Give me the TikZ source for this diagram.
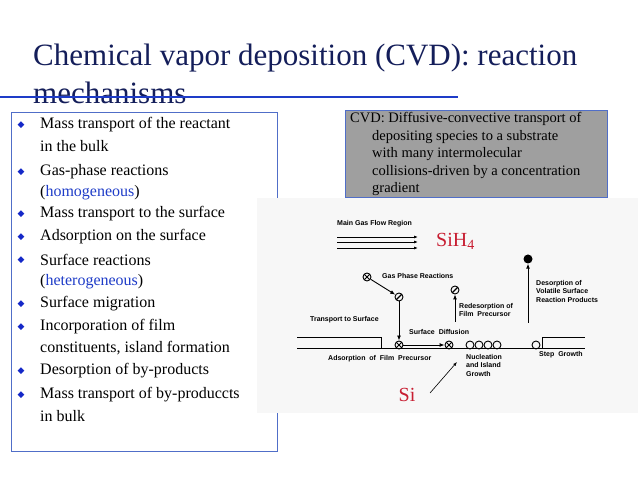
\documentclass[tikz,border=0pt]{standalone}
\usepackage{fontspec}
\setmainfont{Liberation Serif}
\newfontfamily\arialf{Liberation Sans}
\newfontfamily\bulfont{DejaVu Sans}
\usetikzlibrary{arrows.meta}
\definecolor{navy}{RGB}{20,30,90}
\definecolor{ttblue}{RGB}{30,60,200}
\definecolor{boxblue}{RGB}{80,110,200}
\definecolor{bulblue}{RGB}{20,40,200}
\definecolor{sired}{RGB}{200,30,50}
\begin{document}
\begin{tikzpicture}[x=1pt,y=-1pt,
  bl/.style={anchor=west,inner sep=0pt,font=\fontsize{16}{19}\selectfont},
  bul/.style={anchor=center,inner sep=0pt,font=\bulfont\fontsize{9}{9}\selectfont,text=bulblue},
  sm/.style={anchor=west,inner sep=0pt,font=\arialf\bfseries\fontsize{7}{8.5}\selectfont,align=left},
  gb/.style={anchor=west,inner sep=0pt,font=\fontsize{14.5}{17}\selectfont},
  arr/.style={-{Latex[length=5pt,width=4pt]},line width=0.9pt},
  circ/.style={circle,draw,line width=0.9pt,minimum size=8pt,inner sep=0pt},
  xc/.style={circ,path picture={\draw[line width=0.8pt] (path picture bounding box.south west)--(path picture bounding box.north east) (path picture bounding box.north west)--(path picture bounding box.south east);}},
  sc/.style={circ,path picture={\draw[line width=1.4pt] (path picture bounding box.south west)--(path picture bounding box.north east);}},
  ln/.style={line width=1pt}]
\useasboundingbox (0,0) rectangle (638,478);
\fill[white] (0,0) rectangle (638,478);
% title
\node[anchor=west,inner sep=0pt,text=navy,font=\fontsize{31}{35}\selectfont] (t1) at (33,58) {Chemical vapor deposition (CVD): reaction};
\node[anchor=west,inner sep=0pt,text=navy,font=\fontsize{31}{35}\selectfont] (t2) at (33,93) {mechanisms};
\draw[ttblue,line width=2pt] (0,97) -- (458,97);
% left box
\draw[boxblue,line width=0.8pt] (11,112) rectangle (277,451);
\foreach \y in {125,172,214,237,260,304,327,371,395}{\node[bul] at (21,\y) {\char"25C6};}
\node[bl] (b1) at (40,125) {Mass transport of the reactant};
\node[bl] (b1b) at (40,146) {in the bulk};
\node[bl] (b2) at (40,172) {Gas-phase reactions};
\node[bl] (b2b) at (40,193) {(\textcolor{ttblue}{homogeneous})};
\node[bl] (b3) at (40,214) {Mass transport to the surface};
\node[bl] (b4) at (40,237) {Adsorption on the surface};
\node[bl] (b5) at (40,260) {Surface reactions};
\node[bl] (b5b) at (40,282) {(\textcolor{ttblue}{heterogeneous})};
\node[bl] (b6) at (40,304) {Surface migration};
\node[bl] (b7) at (40,327) {Incorporation of film};
\node[bl] (b7b) at (40,348) {constituents, island formation};
\node[bl] (b8) at (40,371) {Desorption of by-products};
\node[bl] (b9) at (40,395) {Mass transport of by-produccts};
\node[bl] (b9b) at (40,416) {in bulk};
% gray box
\fill[gray!75,draw=boxblue,line width=0.8pt] (345,110) rectangle (607,197);
\node[gb] (g1) at (350,119) {CVD: Diffusive-convective transport of};
\node[gb] (g2) at (372,137) {depositing species to a substrate};
\node[gb] (g3) at (372,154) {with many intermolecular};
\node[gb] (g4) at (372,172) {collisions-driven by a concentration};
\node[gb] (g5) at (372,189) {gradient};
% diagram
\fill[black!3] (257,198) rectangle (638,413);
\node[sm] (mg) at (337,224) {Main Gas Flow Region};
\foreach \y in {237,242,248}{\draw[arr,-{Latex[length=4pt,width=3pt]}] (337,\y) -- (418,\y);}
\node[anchor=west,inner sep=0pt,text=sired,font=\fontsize{20}{20}\selectfont] (sih) at (436,241) {SiH\textsubscript{4}};
\node[circle,fill=black,minimum size=9pt,inner sep=0pt] (dot) at (528,259) {};
\coordinate (dstart) at (528,323);
\draw[arr] (dstart) -- (dot);
\node[sm] (des) at (536,291) {Desorption of\\Volatile Surface\\Reaction Products};
\node[xc] (x1) at (367,277) {};
\node[sm] (gpr) at (382,276) {Gas Phase Reactions};
\node[sc] (s1) at (399,297) {};
\draw[arr] (x1) -- (s1);
\node[sm] (tts) at (310,320) {Transport to Surface};
% surface
\draw[ln] (297,338) -- (381,338) -- (381,349);
\draw[ln] (297,349) -- (585,349);
\draw[ln] (542,349) -- (542,338) -- (585,338);
\node[xc] (x2) at (399,345) {};
\draw[arr] (s1) -- (x2);
\node[xc] (x3) at (449,345) {};
\draw[arr] (x2) -- (x3);
\node[sm] (sd) at (409,332) {Surface\ \ Diffusion};
\foreach \i/\x in {1/470,2/479,3/488,4/497}{\node[circ] (c\i) at (\x,345) {};}
\node[sc] (s2) at (455,290) {};
\coordinate (rstart) at (455,322);
\draw[arr] (rstart) -- (s2);
\node[sm] (red) at (459,310) {Redesorption of\\Film\ \ Precursor};
\node[circ] (c5) at (536,345) {};
\node[sm] (ads) at (328,359) {Adsorption\ \ of\ \ Film\ \ Precursor};
\node[sm,anchor=north west] (nuc) at (466,354) {Nucleation\\and Island\\Growth};
\node[sm] (stg) at (539,355) {Step\ \ Growth};
\node[anchor=center,inner sep=0pt,text=sired,font=\fontsize{20}{20}\selectfont] (si) at (407,395) {Si};
\coordinate (siend) at (457,362);
\draw[-{Latex[length=4pt,width=3pt]},line width=0.6pt] (430,393) -- (siend);
\end{tikzpicture}
\end{document}
